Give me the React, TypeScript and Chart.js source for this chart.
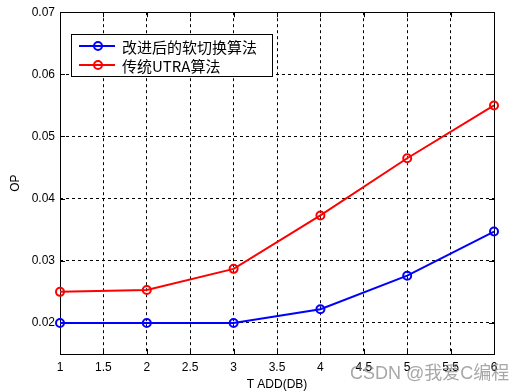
import React, { useEffect, useRef } from "react";
import { Chart, registerables } from "chart.js";

Chart.register(...registerables);

const xValues = [1, 2, 3, 4, 5, 6];
const improvedSoftHandover = [0.02, 0.02, 0.02, 0.0222, 0.0276, 0.0347];
const traditionalUTRA = [0.025, 0.0253, 0.0287, 0.0373, 0.0465, 0.055];
const xTicks = [1, 1.5, 2, 2.5, 3, 3.5, 4, 4.5, 5, 5.5, 6];
const yTicks = [0.02, 0.03, 0.04, 0.05, 0.06, 0.07];
const seriesNames = ["改进后的软切换算法", "传统UTRA算法"];
const seriesColors = ["#0000ff", "#ff0000"];
const xTitle = "T ADD(DB)";
const yTitle = "OP";
const watermark = "CSDN @我爱C编程";

const FONT = 'Arial, "Liberation Sans", sans-serif';

const framePlugin = {
  id: "frame",
  beforeDatasetsDraw(chart: any) {
    const { ctx, chartArea: a, scales } = chart;
    ctx.save();
    ctx.strokeStyle = "#000";
    ctx.lineWidth = 1;
    ctx.setLineDash([]);
    ctx.beginPath();
    const tl = 5;
    for (const v of xTicks) {
      const px = Math.round(scales.x.getPixelForValue(v)) + 0.5;
      ctx.moveTo(px, a.bottom);
      ctx.lineTo(px, a.bottom - tl);
      ctx.moveTo(px, a.top);
      ctx.lineTo(px, a.top + tl);
    }
    for (const v of yTicks) {
      const py = Math.round(scales.y.getPixelForValue(v)) + 0.5;
      ctx.moveTo(a.left, py);
      ctx.lineTo(a.left + tl, py);
      ctx.moveTo(a.right, py);
      ctx.lineTo(a.right - tl, py);
    }
    ctx.stroke();
    ctx.strokeRect(Math.round(a.left) + 0.5, Math.round(a.top) + 0.5, Math.round(a.right - a.left), Math.round(a.bottom - a.top));
    ctx.restore();
  },
};

const legendPlugin = {
  id: "boxLegend",
  afterDraw(chart: any) {
    const { ctx } = chart;
    const bx = 71.5, by = 34.5, bw = 201, bh = 42;
    ctx.save();
    ctx.fillStyle = "#fff";
    ctx.fillRect(bx, by, bw, bh);
    ctx.strokeStyle = "#000";
    ctx.lineWidth = 1;
    ctx.setLineDash([]);
    ctx.strokeRect(bx, by, bw, bh);
    const rows = [46, 65];
    seriesNames.forEach((name, i) => {
      const y = rows[i];
      ctx.strokeStyle = seriesColors[i];
      ctx.lineWidth = 2;
      ctx.beginPath();
      ctx.moveTo(79, y);
      ctx.lineTo(115, y);
      ctx.stroke();
      ctx.beginPath();
      ctx.arc(98, y, 4, 0, Math.PI * 2);
      ctx.stroke();
      ctx.fillStyle = "#000";
      ctx.font = '15px "Noto Sans CJK SC", sans-serif';
      ctx.textBaseline = "middle";
      ctx.textAlign = "left";
      ctx.fillText(name, 122, y + 1);
    });
    ctx.restore();
  },
};

export default function App() {
  const ref = useRef<HTMLCanvasElement | null>(null);
  useEffect(() => {
    if (!ref.current) return;
    const chart = new Chart(ref.current, {
      type: "line",
      data: {
        datasets: [
          {
            label: seriesNames[0],
            data: xValues.map((x, i) => ({ x, y: improvedSoftHandover[i] })),
            borderColor: seriesColors[0],
            backgroundColor: "rgba(0,0,0,0)",
            pointBackgroundColor: "rgba(0,0,0,0)",
            pointBorderColor: seriesColors[0],
            borderWidth: 2,
            pointBorderWidth: 2,
            pointRadius: 4,
            tension: 0,
          },
          {
            label: seriesNames[1],
            data: xValues.map((x, i) => ({ x, y: traditionalUTRA[i] })),
            borderColor: seriesColors[1],
            backgroundColor: "rgba(0,0,0,0)",
            pointBackgroundColor: "rgba(0,0,0,0)",
            pointBorderColor: seriesColors[1],
            borderWidth: 2,
            pointBorderWidth: 2,
            pointRadius: 4,
            tension: 0,
          },
        ],
      },
      options: {
        animation: false,
        responsive: false,
        devicePixelRatio: 1,
        clip: false as any,
        layout: { padding: { top: 12, right: 29, left: 0, bottom: 0 } },
        plugins: { legend: { display: false }, tooltip: { enabled: false } },
        scales: {
          x: {
            type: "linear",
            min: 1,
            max: 6,
            afterBuildTicks: (s: any) => {
              s.ticks = xTicks.map((v) => ({ value: v }));
            },
            afterFit: (s: any) => {
              s.height = 38;
            },
            ticks: {
              callback: (v: any) => String(v),
              color: "#000",
              font: { family: FONT, size: 12 },
              padding: 6,
              maxRotation: 0,
              autoSkip: false,
            },
            grid: { color: "#000", lineWidth: 1, drawTicks: false },
            border: { display: false, dash: [3, 3] },
            title: {
              display: true,
              text: xTitle,
              color: "#000",
              font: { family: FONT, size: 12 },
              padding: { top: 0, bottom: 0 },
            },
          },
          y: {
            type: "linear",
            min: 0.015,
            max: 0.07,
            afterBuildTicks: (s: any) => {
              s.ticks = yTicks.map((v) => ({ value: v }));
            },
            afterFit: (s: any) => {
              s.width = 60;
            },
            ticks: {
              callback: (v: any) => Number(v).toFixed(2),
              color: "#000",
              font: { family: FONT, size: 12 },
              padding: 5,
              autoSkip: false,
            },
            grid: { color: "#000", lineWidth: 1, drawTicks: false },
            border: { display: false, dash: [3, 3] },
            title: {
              display: true,
              text: yTitle,
              color: "#000",
              font: { family: FONT, size: 12 },
              padding: { top: 8, bottom: 0 },
            },
          },
        },
      },
      plugins: [framePlugin, legendPlugin],
    });
    return () => chart.destroy();
  }, []);
  return (
    <div style={{ position: "absolute", left: 0, top: 0, width: 523, height: 392, background: "#fff" }}>
      <canvas ref={ref} width={523} height={392} style={{ display: "block" }} />
      <div
        style={{
          position: "absolute",
          left: 350,
          top: 361,
          fontFamily: 'Arial, "Liberation Sans", "Noto Sans CJK SC", sans-serif',
          fontSize: 18,
          color: "rgba(130,130,130,0.7)",
          whiteSpace: "nowrap",
          lineHeight: "24px",
        }}
      >
        {watermark}
      </div>
    </div>
  );
}
